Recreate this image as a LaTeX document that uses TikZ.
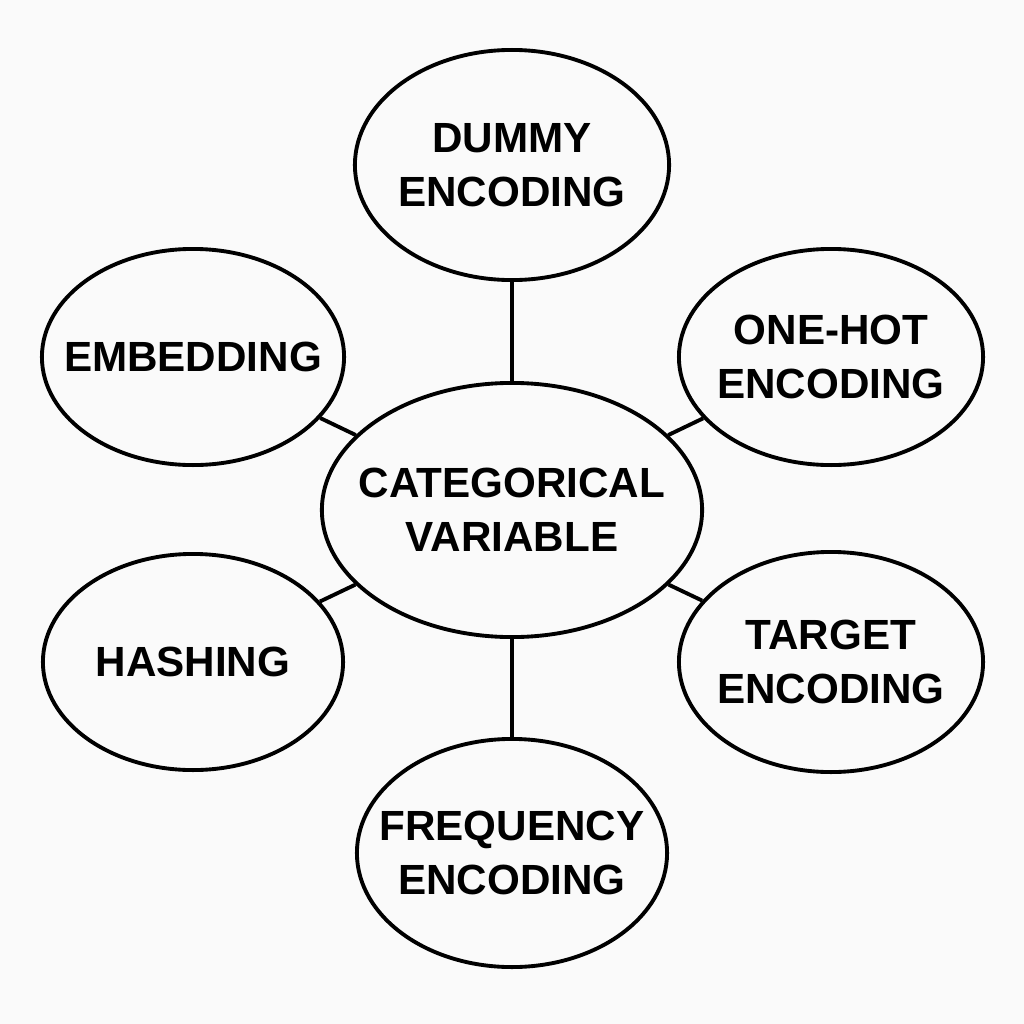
\documentclass[tikz,border=0pt]{standalone}
\usepackage{fontspec}
\setmainfont{Liberation Sans}
\usetikzlibrary{shapes.geometric}
\begin{document}
\begin{tikzpicture}[x=0.01cm,y=-0.01cm,
  el/.style={draw,ellipse,line width=1.1pt,inner sep=0pt},
  lbl/.style={align=center,inner sep=0pt,font=\bfseries\fontsize{12}{15.5}\selectfont},
  link/.style={line width=1.1pt}]
\fill[white!98!black] (0,0) rectangle (1024,1024);
\useasboundingbox (0,0) rectangle (1024,1024);
\node[el,minimum width=3.80cm,minimum height=2.54cm] (c) at (512,510) {};
\node[lbl] (ct) at (c) {CATEGORICAL\\VARIABLE};
\node[el,minimum width=3.14cm,minimum height=2.30cm] (d) at (512,165) {};
\node[lbl] (dt) at (d) {DUMMY\\ENCODING};
\node[el,minimum width=3.04cm,minimum height=2.16cm] (o) at (831,357) {};
\node[lbl] (ot) at (o) {ONE-HOT\\ENCODING};
\node[el,minimum width=3.02cm,minimum height=2.16cm] (e) at (193,357) {};
\node[lbl] (et) at (e) {EMBEDDING};
\node[el,minimum width=3.00cm,minimum height=2.16cm] (h) at (193,662) {};
\node[lbl] (ht) at (h) {HASHING};
\node[el,minimum width=3.04cm,minimum height=2.20cm] (t) at (831,662) {};
\node[lbl] (tt) at (t) {TARGET\\ENCODING};
\node[el,minimum width=3.10cm,minimum height=2.28cm] (f) at (512,853) {};
\node[lbl] (ft) at (f) {FREQUENCY\\ENCODING};
\foreach \n in {d,o,e,h,t,f} \draw[link] (c) -- (\n);
\end{tikzpicture}
\end{document}
